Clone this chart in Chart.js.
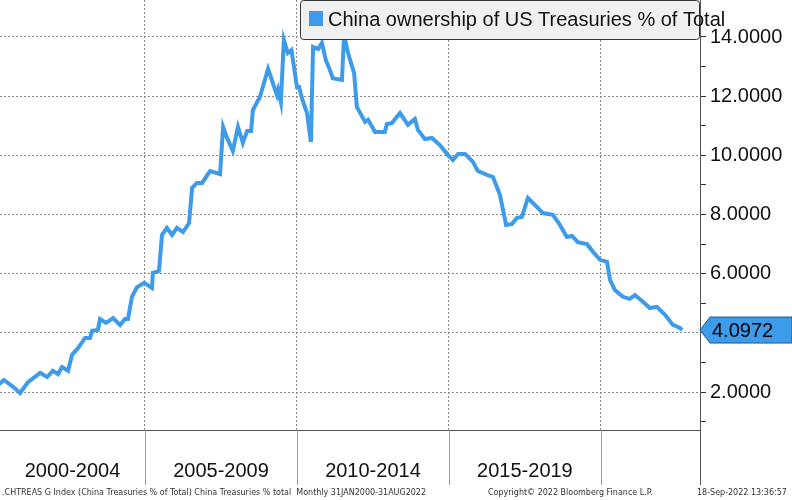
<!DOCTYPE html>
<html><head><meta charset="utf-8">
<script src="https://cdn.jsdelivr.net/npm/chart.js@4"></script>
<style>html,body{margin:0;padding:0;background:#fff}#w{width:792px;height:500px}</style>
</head><body><div id="w"><canvas id="c"></canvas></div>
<script>
const years = [2000.0,2000.36,2000.66,2000.89,2001.15,2001.55,2001.78,2001.97,2002.14,2002.27,2002.47,2002.6,2002.8,2003.03,2003.19,2003.26,2003.45,2003.52,2003.72,2003.95,2004.18,2004.34,2004.44,2004.57,2004.74,2004.97,2005.23,2005.26,2005.46,2005.56,2005.72,2005.89,2006.05,2006.25,2006.45,2006.55,2006.71,2006.88,2007.14,2007.47,2007.57,2007.7,2007.89,2008.06,2008.22,2008.36,2008.49,2008.55,2008.78,2009.05,2009.34,2009.38,2009.47,2009.57,2009.7,2009.82,2010.0,2010.07,2010.16,2010.33,2010.46,2010.53,2010.7,2010.82,2010.95,2011.08,2011.18,2011.48,2011.55,2011.68,2011.88,2011.97,2012.24,2012.34,2012.57,2012.89,2012.96,2013.12,2013.39,2013.65,2013.88,2013.98,2014.21,2014.44,2014.7,2014.97,2015.13,2015.3,2015.53,2015.79,2015.95,2016.25,2016.45,2016.68,2016.88,2017.07,2017.24,2017.4,2017.6,2017.89,2018.09,2018.42,2018.65,2018.88,2019.05,2019.24,2019.54,2019.74,2019.97,2020.2,2020.3,2020.46,2020.72,2020.95,2021.12,2021.38,2021.61,2021.84,2022.11,2022.37,2022.6,2022.67];
const shares = [2.1,2.41,2.18,1.97,2.34,2.65,2.51,2.72,2.61,2.85,2.72,3.26,3.49,3.83,3.83,4.07,4.1,4.47,4.34,4.5,4.27,4.47,4.47,5.22,5.55,5.69,5.52,6.03,6.09,7.31,7.55,7.31,7.55,7.41,7.71,8.9,9.07,9.07,9.47,9.37,10.96,10.59,10.15,10.96,10.42,10.82,10.82,11.53,11.97,12.92,12.04,12.21,11.8,13.9,13.46,13.56,12.31,12.31,11.94,11.43,10.45,13.66,13.59,13.8,13.22,12.89,12.61,12.55,14.07,13.46,12.78,11.64,11.13,11.2,10.79,10.79,11.06,11.09,11.43,11.03,11.23,10.86,10.55,10.59,10.35,10.01,9.84,10.05,10.05,9.78,9.47,9.34,9.27,8.66,7.65,7.68,7.89,7.92,8.56,8.26,8.05,7.99,7.65,7.24,7.28,7.07,7.0,6.74,6.47,6.4,5.79,5.45,5.22,5.15,5.28,5.05,4.84,4.88,4.61,4.27,4.17,4.0972];
const periodLabels = ["2000-2004","2005-2009","2010-2014","2015-2019"];
const periodStarts = [2000,2005,2010,2015,2020];
const yTicks = [1,2,3,4,5,6,7,8,9,10,11,12,13,14];
const seriesName = "China ownership of US Treasuries % of Total";
const lastValue = "4.0972";
const blue = '#3d9be9';
const FONT = '"Liberation Sans", Arial, sans-serif';

const deco = {
  id:'deco',
  afterDraw(ch){
    const c=ch.ctx, x=ch.scales.x, y=ch.scales.y, a=ch.chartArea;
    c.save();
    c.strokeStyle='#555'; c.lineWidth=1;
    c.beginPath(); c.moveTo(0,a.bottom+0.5); c.lineTo(a.right,a.bottom+0.5); c.stroke();
    c.beginPath(); c.moveTo(a.right+0.5,0); c.lineTo(a.right+0.5,a.bottom+55); c.stroke();
    c.strokeStyle='#999';
    periodStarts.slice(1).forEach(v=>{const px=Math.round(x.getPixelForValue(v))+0.5;c.beginPath();c.moveTo(px,a.bottom);c.lineTo(px,a.bottom+55);c.stroke();});
    c.fillStyle='#111'; c.font='20px '+FONT; c.textAlign='center'; c.textBaseline='middle';
    periodLabels.forEach((l,i)=>{const p0=Math.max(a.left,x.getPixelForValue(periodStarts[i])),p1=x.getPixelForValue(periodStarts[i+1]);c.fillText(l,(p0+p1)/2,a.bottom+41);});
    c.font='8px "DejaVu Sans"'; c.fillStyle='#333'; c.textAlign='left';
    c.fillText('.CHTREAS G Index (China Treasuries % of Total) China Treasuries % total  Monthly 31JAN2000-31AUG2022',2,493);
    c.fillText('Copyright\u00a9 2022 Bloomberg Finance L.P.',488,493);
    c.fillText('18-Sep-2022 13:36:57',697,493);
    c.fillStyle='#f0f0f0'; c.strokeStyle='#333'; c.lineWidth=1;
    c.beginPath(); c.roundRect(300.5,0.5,399,39,3); c.fill(); c.stroke();
    c.fillStyle=blue; c.fillRect(309,11,14,15);
    c.fillStyle='#111'; c.font='20px '+FONT; c.textAlign='left';
    c.fillText(seriesName,328,20);
    const py=y.getPixelForValue(parseFloat(lastValue));
    c.fillStyle=blue; c.strokeStyle='#1a5a9a';
    c.beginPath(); c.moveTo(700,py); c.lineTo(710,py-13); c.lineTo(792,py-13); c.lineTo(792,py+13); c.lineTo(710,py+13); c.closePath(); c.fill(); c.stroke();
    c.fillStyle='#000'; c.fillText(lastValue,712,py+1);
    c.restore();
  }
};

new Chart(document.getElementById('c'),{
  type:'line',
  data:{datasets:[{data:years.map((v,i)=>({x:v,y:shares[i]})),borderColor:blue,borderWidth:4,pointRadius:0,tension:0,clip:{left:0,right:0,top:0,bottom:0}}]},
  options:{
    responsive:true,maintainAspectRatio:false,animation:false,
    layout:{padding:0},
    plugins:{legend:{display:false},tooltip:{enabled:false}},
    scales:{
      x:{type:'linear',min:2000.23,max:2023.26,
        afterBuildTicks(s){s.ticks=periodStarts.slice(1).map(v=>({value:v}));},
        afterFit(s){s.height=70;},
        ticks:{display:false},
        grid:{color:'#888',drawTicks:false},
        border:{display:false,dash:[2,2]}},
      y:{position:'right',min:0.72,max:15.25,
        afterBuildTicks(s){s.ticks=yTicks.map(v=>({value:v}));},
        afterFit(s){s.width=92;s.paddingTop=0;s.paddingBottom=0;},
        ticks:{color:'#111',font:{family:FONT,size:20},padding:4,
          callback:v=>v%2===0?v.toFixed(4):''},
        grid:{color:ctx=>ctx.tick&&ctx.tick.value%2===0?'#888':'rgba(0,0,0,0)',
          tickColor:'#333',tickLength:6,tickWidth:1},
        border:{display:false,dash:[2,2]}}
    }
  },
  plugins:[deco]
});
</script></body></html>
